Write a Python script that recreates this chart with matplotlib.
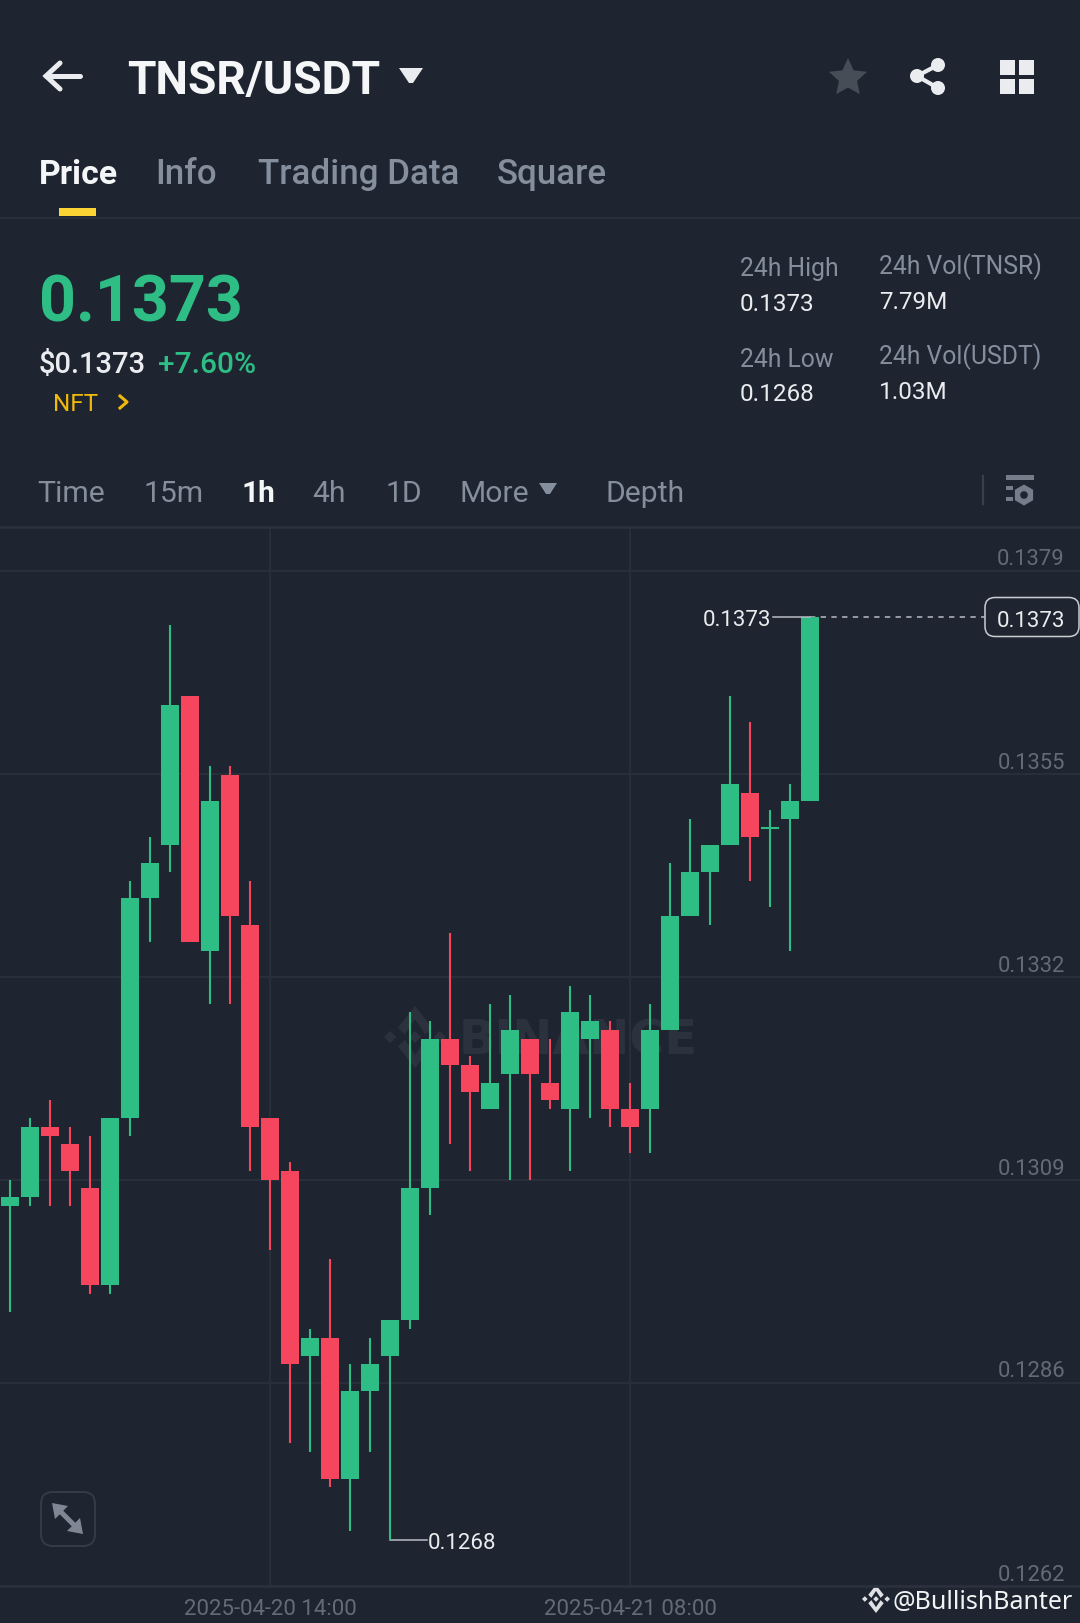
import math
import matplotlib
matplotlib.use('Agg')
import matplotlib.pyplot as plt
from matplotlib.patches import Polygon, Circle, Rectangle, FancyBboxPatch, RegularPolygon

# hourly candles
opens = [0.1306, 0.1307, 0.1315, 0.1313, 0.1308, 0.1297, 0.1316, 0.1341, 0.1347, 0.1364,
         0.1335, 0.1355, 0.1338, 0.1316, 0.1310, 0.1289, 0.1291, 0.1275, 0.1285, 0.1289,
         0.1293, 0.1308, 0.1325, 0.1322, 0.1317, 0.1321, 0.1325, 0.1320, 0.1317, 0.1325,
         0.1326, 0.1317, 0.1317, 0.1326, 0.1339, 0.1344, 0.1347, 0.1353, 0.1349, 0.1350,
         0.1352]
closes = [0.1307, 0.1315, 0.1314, 0.1310, 0.1297, 0.1316, 0.1341, 0.1345, 0.1363, 0.1336,
          0.1352, 0.1339, 0.1315, 0.1309, 0.1288, 0.1291, 0.1275, 0.1285, 0.1288, 0.1293,
          0.1308, 0.1325, 0.1322, 0.1319, 0.1320, 0.1326, 0.1321, 0.1318, 0.1328, 0.1327,
          0.1317, 0.1315, 0.1326, 0.1339, 0.1344, 0.1347, 0.1354, 0.1348, 0.1349, 0.1352,
          0.1373]
highs = [0.1309, 0.1316, 0.1318, 0.1315, 0.1314, 0.1316, 0.1343, 0.1348, 0.1372, 0.1364,
         0.1356, 0.1356, 0.1343, 0.1316, 0.1311, 0.1292, 0.1300, 0.1288, 0.1291, 0.1293,
         0.1328, 0.1327, 0.1337, 0.1323, 0.1329, 0.1330, 0.1325, 0.1325, 0.1331, 0.1330,
         0.1327, 0.1320, 0.1329, 0.1345, 0.1350, 0.1347, 0.1364, 0.1361, 0.1351, 0.1354,
         0.1373]
lows = [0.1294, 0.1306, 0.1306, 0.1306, 0.1296, 0.1296, 0.1314, 0.1336, 0.1344, 0.1336,
        0.1329, 0.1329, 0.1310, 0.1301, 0.1279, 0.1278, 0.1274, 0.1269, 0.1278, 0.1268,
        0.1292, 0.1305, 0.1313, 0.1310, 0.1317, 0.1309, 0.1309, 0.1317, 0.1310, 0.1316,
        0.1315, 0.1312, 0.1312, 0.1326, 0.1339, 0.1338, 0.1347, 0.1343, 0.1340, 0.1335,
        0.1352]

grid_prices = [0.13782, 0.13551, 0.13320, 0.13089, 0.12859]
grid_labels = ['0.1379', '0.1355', '0.1332', '0.1309', '0.1286']
bottom_label = '0.1262'
time_ticks = [13, 31]
time_labels = ['2025-04-20 14:00', '2025-04-21 08:00']

header_tabs = [('Price', 39), ('Info', 155), ('Trading Data', 258), ('Square', 497)]
intervals = [('Time', 37), ('15m', 144), ('1h', 242), ('4h', 312), ('1D', 385), ('More', 460), ('Depth', 606)]

BG = '#1f2530'
GREEN = '#2ebd85'
RED = '#f6465d'
GRID = '#2b313c'
GRAY = '#848e9c'
TICK = '#646b78'
WHITE = '#eaecef'

fig = plt.figure(figsize=(10.8, 16.24), dpi=100, facecolor=BG)
plt.rcParams['font.family'] = ['Roboto', 'DejaVu Sans']

# chart area spans pixels 528-1587 vertically
ax = fig.add_axes([0, 1 - 1587 / 1624, 1, (1587 - 528) / 1624], facecolor=BG)
ax.set_xlim(-0.5, 53.5)
ax.set_ylim(0.126280, 0.138319)
for s in ax.spines.values():
    s.set_visible(False)
ax.set_xticks([])
ax.set_yticks([])

for p in grid_prices:
    ax.axhline(p, color=GRID, lw=1.3, zorder=1)
ax.axhline(0.126280, color=GRID, lw=2, zorder=1, clip_on=False)
ax.axhline(0.138319, color=GRID, lw=2, zorder=1, clip_on=False)
for t in time_ticks:
    ax.axvline(t, color=GRID, lw=1.3, zorder=1)

# candles
for i in range(len(opens)):
    col = GREEN if closes[i] >= opens[i] else RED
    ax.vlines(i, lows[i], highs[i], color=col, lw=1.5, zorder=3)
    if opens[i] == closes[i]:
        ax.hlines(opens[i], i - 0.44, i + 0.44, color=col, lw=1.5, zorder=3)
    else:
        ax.bar(i, abs(closes[i] - opens[i]), 0.875, bottom=min(opens[i], closes[i]), color=col, lw=0, zorder=3)

# high / low markers
top_i = highs.index(max(highs))
low_i = lows.index(min(lows))
ax.plot([top_i - 1.85, top_i], [highs[top_i]] * 2, color='#b7bcc4', lw=1.1, zorder=4)
ax.plot([low_i, low_i + 1.85], [lows[low_i]] * 2, color='#b7bcc4', lw=1.1, zorder=2)
ax.plot([top_i, top_i + 8.75], [closes[-1]] * 2, color='#b7bcc4', lw=1.1, ls=(0, (3.5, 3.5)), zorder=2)
ax.annotate('%.4f' % highs[top_i], (top_i - 1.95, highs[top_i]), xytext=(0, -2), textcoords='offset points',
            ha='right', va='center', color=WHITE, fontsize=16)
ax.annotate('%.4f' % lows[low_i], (low_i + 1.88, lows[low_i]), xytext=(0, -1.5), textcoords='offset points',
            ha='left', va='center', color=WHITE, fontsize=16)

for p, lab in zip(grid_prices, grid_labels):
    ax.annotate(lab, (1065 / 20 - 0.5, p), xytext=(0, 8.7), textcoords='offset points',
                ha='right', va='center', color=TICK, fontsize=15.8)

# everything outside the candles is drawn in pixel coordinates
ui = fig.add_axes([0, 0, 1, 1], facecolor='none')
ui.set_xlim(0, 1080)
ui.set_ylim(1624, 0)
ui.axis('off')


def txt(x, y, s, size, color, weight='normal', ha='left', va='baseline', family=None, z=6):
    if family is None:
        family = ['Roboto', 'DejaVu Sans']
    ui.text(x, y, s, fontsize=size, color=color, fontweight=weight, ha=ha, va=va, family=family, zorder=z)


def binance_logo(cx, cy, r, color, z=1):
    d = r * 0.2
    for dx in [-0.8, 0.8, 0]:
        ui.add_patch(Polygon([(cx + dx * r - d, cy), (cx + dx * r, cy - d), (cx + dx * r + d, cy), (cx + dx * r, cy + d)],
                             color=color, lw=0, zorder=z))
    for sgn in [-1, 1]:
        ui.add_patch(Polygon([(cx - r * .55, cy + sgn * r * .3), (cx, cy + sgn * r), (cx + r * .55, cy + sgn * r * .3),
                              (cx + r * .33, cy + sgn * r * .08), (cx, cy + sgn * r * .58), (cx - r * .33, cy + sgn * r * .08)],
                             color=color, lw=0, zorder=z))


# watermark sits under the candles, so the ui layer goes below the chart axes
ui.set_zorder(2)
ax.set_zorder(3)
ax.patch.set_alpha(0)
binance_logo(415, 1038, 31, '#2c323d')
txt(459, 1055, 'BINANCE', 34.5, '#2c323d', weight='bold', z=1, family=['DejaVu Sans'])

# header
ui.plot([46, 80], [77, 77], color=WHITE, lw=3.6, solid_capstyle='round')
ui.plot([60, 46, 60], [64, 77, 90], color=WHITE, lw=3.6, solid_capstyle='round', solid_joinstyle='miter')
txt(127, 94, 'TNSR/USDT', 33.2, '#f5f6f7', weight='bold')
ui.add_patch(Polygon([(399, 69), (423, 69), (413, 84), (409, 84)], color=WHITE, lw=0))

pts = []
for k in range(10):
    r = 20 if k % 2 == 0 else 9.5
    a = -math.pi / 2 + k * math.pi / 5
    pts.append((848 + r * math.cos(a), 79 + r * math.sin(a)))
ui.add_patch(Polygon(pts, color='#474d57', lw=0))

ui.plot([938, 917, 938], [66, 77, 89], color=WHITE, lw=3)
for c in [(938, 66), (917, 77), (938, 89)]:
    ui.add_patch(Circle(c, 7, color=WHITE, lw=0))
for sx in [1000, 1019]:
    for sy in [61, 80]:
        ui.add_patch(Rectangle((sx, sy), 15, 14.5, color=WHITE, lw=0))

# tabs
for name, x in header_tabs:
    if name == 'Price':
        txt(x, 184, name, 24.3, '#f5f6f7', weight='bold')
    else:
        txt(x, 184, name, 25.2, GRAY, weight='medium')
ui.add_patch(Rectangle((59, 209), 37, 8, color='#fcd535', lw=0))
ui.plot([0, 1080], [218.5, 218.5], color=GRID, lw=1.4)

# price block
txt(39, 321, '0.1373', 46.5, GREEN, weight='bold')
txt(39, 373, '$0.1373', 21, WHITE, weight='medium')
txt(158, 373, '+7.60%', 21.5, GREEN, weight='medium')
txt(53, 411, 'NFT', 17.5, '#f0b90b')
ui.plot([120, 127, 120], [397, 403, 409], color='#f0b90b', lw=2.2)

txt(740, 276, '24h High', 17.8, GRAY)
txt(879, 274, '24h Vol(TNSR)', 17.8, GRAY)
txt(740, 311, '0.1373', 17.5, WHITE)
txt(879, 309, '7.79M', 17.5, WHITE)
txt(740, 367, '24h Low', 17.8, GRAY)
txt(879, 364, '24h Vol(USDT)', 17.8, GRAY)
txt(740, 401, '0.1268', 17.5, WHITE)
txt(879, 399, '1.03M', 17.5, WHITE)

# interval row
for name, x in intervals:
    if name == '1h':
        txt(x, 502, name, 21.5, '#f5f6f7', weight='bold')
    else:
        txt(x, 502, name, 21.7, GRAY)
ui.add_patch(Polygon([(539, 484), (557, 484), (550, 495), (546, 495)], color=GRAY, lw=0))
ui.plot([983, 983], [477, 505], color='#3a404b', lw=1.6)
ui.add_patch(Rectangle((1006, 476), 28, 4.5, color='#767d8a', lw=0))
ui.add_patch(Rectangle((1006, 487), 7, 4, color='#767d8a', lw=0))
ui.add_patch(Rectangle((1006, 498), 7, 4, color='#767d8a', lw=0))
ui.add_patch(RegularPolygon((1024, 496), 6, radius=10.5, color='#767d8a', lw=0))
ui.add_patch(Circle((1024, 496), 3.8, color=BG, lw=0))

# last price box
ui.add_patch(FancyBboxPatch((991, 604.5), 82, 27, boxstyle='round,pad=6,rounding_size=10', lw=1.1, ec='#c9cdd3', fc=BG, zorder=5))
txt(1031.5, 622, '%.4f' % closes[-1], 16, WHITE, ha='center', va='center')

# axis labels
txt(1065, 1576, bottom_label, 15.8, TICK, ha='right', va='center')
for t, lab in zip(time_ticks, time_labels):
    txt(10 + 20 * t, 1609.5, lab, 16, TICK, ha='center', va='center')

# expand button
ui.add_patch(FancyBboxPatch((51, 1503), 34, 34, boxstyle='round,pad=10,rounding_size=12', lw=1.4, ec='#363c47', fc='none'))
ui.plot([60, 76], [1512, 1528], color='#7f8795', lw=3.6)
ui.add_patch(Polygon([(52, 1504), (68, 1507), (55, 1520)], color='#7f8795', lw=0))
ui.add_patch(Polygon([(83, 1535), (67, 1532), (80, 1519)], color='#7f8795', lw=0))

# author tag
binance_logo(876, 1600, 14, '#dfe1e5', z=7)
txt(892, 1609, '@BullishBanter', 18, '#f2f3f5', family=['Noto Sans', 'DejaVu Sans'], z=7)

fig.savefig('out.png', dpi=100, facecolor=BG)
